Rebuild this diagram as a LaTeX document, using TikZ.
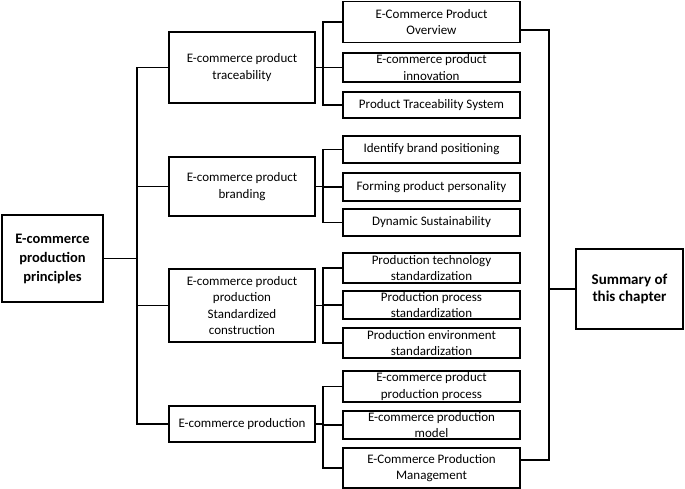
\documentclass[tikz,border=0pt]{standalone}
\usepackage{fontspec}
\setmainfont{Carlito}
\begin{document}
\begin{tikzpicture}[x=1pt,y=-1pt,
  box/.style={draw,line width=1.6pt,rectangle,inner sep=0pt,align=center,
    font=\fontsize{13}{16.5}\selectfont},
  lbox/.style={box,minimum width=146pt},
  rbox/.style={box,minimum width=177pt},
  bbox/.style={box,font=\fontsize{14.5}{19}\selectfont\bfseries},
  conn/.style={line width=1.6pt}]
\useasboundingbox (0,0) rectangle (685,489);
% root
\node[bbox,minimum width=101pt,minimum height=87pt] (root) at (52.5,258.5) {E-commerce\\production\\principles};
% level 2
\node[lbox,minimum height=71pt] (t) at (242,67.5) {E-commerce product\\traceability};
\node[lbox,minimum height=59pt] (b) at (242,186.5) {E-commerce product\\branding};
\node[lbox,minimum height=73pt] (s) at (242,305.5) {E-commerce product\\production\\Standardized\\construction};
\node[lbox,minimum height=36pt] (p) at (242,424) {E-commerce production};
% level 3
\node[rbox,minimum height=41pt] (t1) at (431.5,22) {E-Commerce Product\\Overview};
\node[rbox,minimum height=29pt] (t2) at (431.5,67.5) {E-commerce product\\innovation};
\node[rbox,minimum height=26pt] (t3) at (431.5,105) {Product Traceability System};
\node[rbox,minimum height=27pt] (b1) at (431.5,149.5) {Identify brand positioning};
\node[rbox,minimum height=28pt] (b2) at (431.5,187) {Forming product personality};
\node[rbox,minimum height=27pt] (b3) at (431.5,222.5) {Dynamic Sustainability};
\node[rbox,minimum height=30pt] (s1) at (431.5,268) {Production technology\\standardization};
\node[rbox,minimum height=28pt] (s2) at (431.5,305) {Production process\\standardization};
\node[rbox,minimum height=30pt] (s3) at (431.5,343) {Production environment\\standardization};
\node[rbox,minimum height=31pt] (p1) at (431.5,386.5) {E-commerce product\\production process};
\node[rbox,minimum height=28pt] (p2) at (431.5,425) {E-commerce production\\model};
\node[rbox,minimum height=40pt] (p3) at (431.5,468) {E-Commerce Production\\Management};
% summary
\node[bbox,font=\fontsize{15}{16.5}\selectfont\bfseries,minimum width=107pt,minimum height=80pt] (sum) at (629.5,289) {Summary of\\this chapter};
% spines
\coordinate (sp1) at (137,0);
\coordinate (sp2) at (323,0);
\coordinate (sp3) at (549,0);
\coordinate (t1r) at ([yshift=-8pt]t1.east);
\coordinate (p3r) at ([yshift=8pt]p3.east);
% root to level 2
\draw[conn] (root.east) -- (root.east -| sp1);
\draw[conn] (t.west) -| (sp1 |- p.west) -- (p.west);
\draw[conn] (b.west) -- (b.west -| sp1);
\draw[conn] (s.west) -- (s.west -| sp1);
% level 2 to level 3
\foreach \g in {t,b,s,p}{
  \draw[conn] (\g.east) -- (\g.east -| sp2);
  \draw[conn] (\g1.west) -| (sp2 |- \g3.west) -- (\g3.west);
  \draw[conn] (\g2.west) -- (\g2.west -| sp2);
}
% to summary
\draw[conn] (t1r) -| (sp3 |- p3r) -- (p3r);
\draw[conn] (sum.west) -- (sum.west -| sp3);
\end{tikzpicture}
\end{document}
